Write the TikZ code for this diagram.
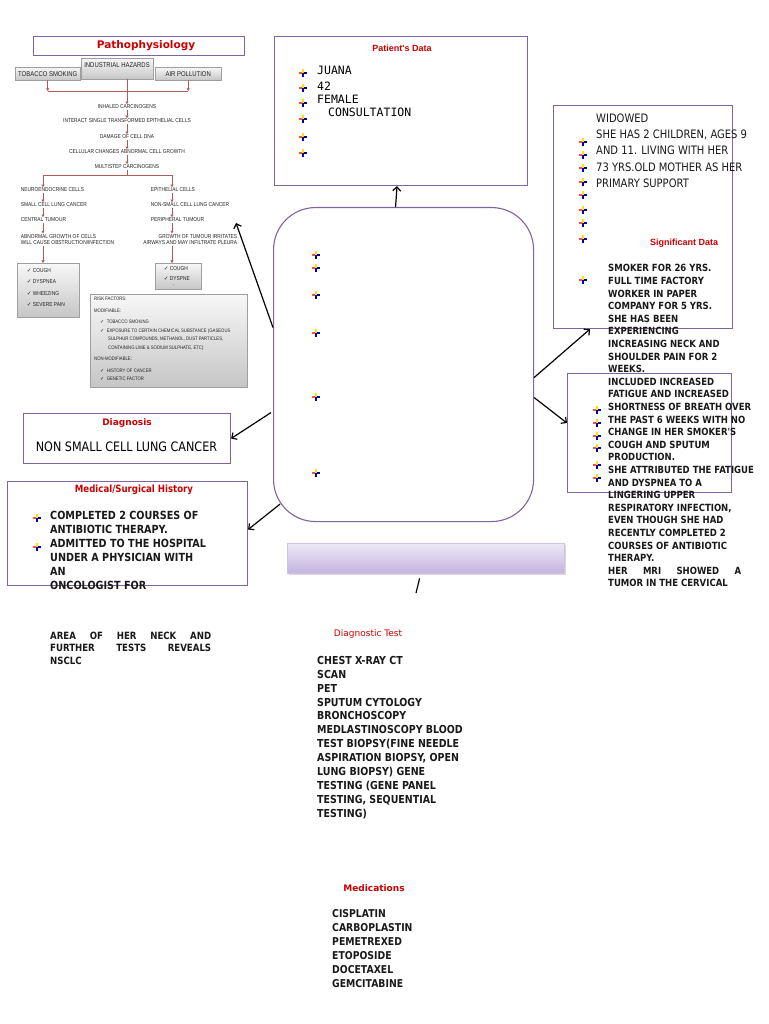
\documentclass[tikz,border=0pt]{standalone}
\usepackage{fontspec}
\setmainfont{DejaVu Sans}
\newfontfamily\tah[FakeStretch=0.86]{DejaVu Sans}
\newfontfamily\flw[FakeStretch=0.85]{Liberation Sans}
\newfontfamily\arl{Liberation Sans}
\newfontfamily\mon{DejaVu Sans Mono}
\newfontfamily\dv{DejaVu Sans}
\usetikzlibrary{arrows.meta,calc,shadows}
\newcommand{\chkm}{{\dv\char"2713}}
\definecolor{pur}{HTML}{8064A2}
\definecolor{tred}{HTML}{CC0000}
\definecolor{fred}{HTML}{B25A5A}
\definecolor{lavtop}{HTML}{EDE8F6}
\definecolor{lavbot}{HTML}{C4B3DF}
\definecolor{ftxc}{HTML}{222222}
\tikzset{
  pbox/.style={draw=pur, line width=1.1pt, inner sep=0pt, anchor=north west},
  gbox/.style={draw=gray!75, top color=gray!6, bottom color=gray!45, inner sep=0pt, anchor=north west,
     drop shadow={opacity=0.25, shadow xshift=1pt, shadow yshift=-1pt}},
  arr/.style={-{Straight Barb[length=4pt,width=8pt]}, line width=1.2pt, black},
  farr/.style={-{Triangle[length=2.6pt,width=3pt]}, fred, line width=0.9pt},
  fline/.style={fred, line width=0.9pt},
  ftxt/.style={font=\flw\fontsize{5.7}{6.6}\selectfont, inner sep=0.6pt, text=ftxc},
  gtxt/.style={font=\flw\fontsize{7}{8}\selectfont, inner sep=0pt, text=ftxc},
  rtxt/.style={font=\flw\fontsize{5}{6}\selectfont, inner sep=0pt, text=ftxc, anchor=west},
  ttl/.style={text=tred, inner sep=0pt},
  btx/.style={inner sep=0pt, align=left, anchor=north west, text=black!90},
  bul/.pic={
    \fill[red!70] (-4.2,-1.1) rectangle (0,1.1);
    \fill[blue!65!black] (0,-1.2) rectangle (4.2,1.2);
    \fill[yellow!85!orange] (-1.1,-4.4) rectangle (1.1,0);
    \fill[blue!65!black] (-1.2,0) rectangle (1.2,4.2);
  }
}
\begin{document}
\begin{tikzpicture}[x=1pt,y=-1pt]
\useasboundingbox[fill=white] (0,0) rectangle (768,1024);

% ---------------- Pathophysiology ----------------
\node[pbox, minimum width=211pt, minimum height=19pt] (pp) at (33,36) {};
\node[ttl, font=\dv\bfseries\fontsize{10.5}{12}\selectfont] (ppt) at (146,46) {Pathophysiology};

\node[gbox, minimum width=65pt, minimum height=13pt] (tob) at (15,67) {};
\node[gtxt] (tobt) at (tob.center) {TOBACCO SMOKING};
\node[gbox, minimum width=72pt, minimum height=21pt] (ind) at (81,58) {};
\node[gtxt] (indt) at (117,65) {INDUSTRIAL HAZARDS};
\node[gbox, minimum width=66pt, minimum height=13pt] (air) at (155,67) {};
\node[gtxt] (airt) at (air.center) {AIR POLLUTION};

\node[ftxt] (inh) at (127,107) {INHALED CARCINOGENS};
\node[ftxt] (intr) at (127,121) {INTERACT SINGLE TRANSFORMED EPITHELIAL CELLS};
\node[ftxt] (dmg) at (127,137) {DAMAGE OF CELL DNA};
\node[ftxt] (cel) at (127,152) {CELLULAR CHANGES ABNORMAL CELL GROWTH};
\node[ftxt] (mst) at (127,167) {MULTISTEP CARCINOGENS};

\coordinate (hl) at (0,91);
\draw[farr] (tob.south) -- (tob.south |- hl);
\draw[farr] (air.south) -- (air.south |- hl);
\draw[fline] (tob.south |- hl) -- (air.south |- hl);
\draw[farr] (ind.south -| inh.north) -- (inh.north);
\draw[farr] (inh.south) -- (intr.north);
\draw[farr] (intr.south) -- (dmg.north);
\draw[farr] (dmg.south) -- (cel.north);
\draw[farr] (cel.south) -- (mst.north);

\node[ftxt, anchor=west] (neu) at (20,190) {NEUROENDOCRINE CELLS};
\node[ftxt, anchor=west] (scl) at (20,205) {SMALL CELL LUNG CANCER};
\node[ftxt, anchor=west] (cen) at (20,220) {CENTRAL TUMOUR};
\node[ftxt, anchor=west, align=left] (abn) at (20,239.5) {ABNORMAL GROWTH OF CELLS\\WILL CAUSE OBSTRUCTION/INFECTION};
\node[ftxt, anchor=west] (epi) at (150,190) {EPITHELIAL CELLS};
\node[ftxt, anchor=west] (nsc) at (150,205) {NON-SMALL CELL LUNG CANCER};
\node[ftxt, anchor=west] (per) at (150,220) {PERIPHERAL TUMOUR};
\node[ftxt, anchor=east, align=right] (gro) at (238,239.5) {GROWTH OF TUMOUR IRRITATES\\AIRWAYS AND MAY INFILTRATE PLEURA};

\coordinate (lc) at (43,175);
\coordinate (rc) at (172,175);
\draw[fline] (mst.south) -- (mst.south |- lc);
\draw[fline] (lc) -- (rc);
\draw[farr] (lc) -- (lc |- neu.north);
\draw[farr] (rc) -- (rc |- epi.north);
\draw[farr] (lc |- neu.south) -- (lc |- scl.north);
\draw[farr] (lc |- scl.south) -- (lc |- cen.north);
\draw[farr] (lc |- cen.south) -- (lc |- abn.north);
\draw[farr] (rc |- epi.south) -- (rc |- nsc.north);
\draw[farr] (rc |- nsc.south) -- (rc |- per.north);
\draw[farr] (rc |- per.south) -- (rc |- gro.north);

\node[gbox, minimum width=62pt, minimum height=54pt] (ckl) at (17,263) {};
\node[gbox, minimum width=46pt, minimum height=26pt] (ckr) at (155,263) {};
\draw[farr] (lc |- abn.south) -- (lc |- ckl.north);
\draw[farr] (rc |- gro.south) -- (rc |- ckr.north);
\node[ftxt, anchor=west] (c1) at (26,271) {\chkm\ COUGH};
\node[ftxt, anchor=west] (c2) at (26,282) {\chkm\ DYSPNEA};
\node[ftxt, anchor=west] (c3) at (26,293.5) {\chkm\ WHEEZING};
\node[ftxt, anchor=west] (c4) at (26,305) {\chkm\ SEVERE PAIN};
\node[ftxt, anchor=west] (c5) at (163,269) {\chkm\ COUGH};
\node[ftxt, anchor=west] (c6) at (163,279) {\chkm\ DYSPNE};
\node[ftxt, anchor=west] (c7) at (172,285) {.};

\node[gbox, minimum width=157pt, minimum height=93pt] (risk) at (90,294) {};
\node[rtxt] (r1) at (94,299) {RISK FACTORS:};
\node[rtxt] (r2) at (94,311) {MODIFIABLE:};
\node[rtxt] (r3) at (100,322) {\chkm\ \ TOBACCO SMOKING};
\node[rtxt] (r4) at (100,331) {\chkm\ \ EXPOSURE TO CERTAIN CHEMICAL SUBSTANCE (GASEOUS};
\node[rtxt] (r5) at (108,339.5) {SULPHUR COMPOUNDS, METHANOL, DUST PARTICLES,};
\node[rtxt] (r6) at (108,348) {CONTAINING LIME \& SODIUM SULPHATE, ETC)};
\node[rtxt] (r7) at (94,359) {NON-MODIFIABLE:};
\node[rtxt] (r8) at (100,371) {\chkm\ \ HISTORY OF CANCER};
\node[rtxt] (r9) at (100,379) {\chkm\ \ GENETIC FACTOR};

% ---------------- Patient's data ----------------
\node[pbox, minimum width=253pt, minimum height=149pt] (pd) at (274,36) {};
\node[ttl, font=\arl\bfseries\fontsize{9}{11}\selectfont] (pdt) at (402,48) {Patient's Data};
\foreach \yy in {73,88,103,119,137,153} \pic at (303,\yy) {bul};
\node[inner sep=0pt, anchor=west, font=\mon\fontsize{11.5}{13}\selectfont] (p1) at (317,70) {JUANA};
\node[inner sep=0pt, anchor=west, font=\mon\fontsize{11.5}{13}\selectfont] (p2) at (317,86.5) {42};
\node[inner sep=0pt, anchor=west, font=\mon\fontsize{11.5}{13}\selectfont] (p3) at (317,99.5) {FEMALE};
\node[inner sep=0pt, anchor=west, font=\mon\fontsize{11.5}{13}\selectfont] (p4) at (328,112.5) {CONSULTATION};

% ---------------- central box ----------------
\node[draw=pur, line width=1.1pt, rounded corners=42pt, minimum width=260pt, minimum height=314pt, anchor=north west, inner sep=0pt] (core) at (273,207) {};
\foreach \yy in {255,268,295,333,397,473} \pic at (316,\yy) {bul};

% ---------------- right side ----------------
\node[pbox, minimum width=179pt, minimum height=223pt] (rtop) at (553,105) {};
\node[pbox, minimum width=164pt, minimum height=119pt] (rlow) at (567,373) {};
\foreach \yy in {142,155,168,182,195,210,223,239,280} \pic at (583,\yy) {bul};
\foreach \yy in {410,423,436,448,465,478} \pic at (597,\yy) {bul};
\node[btx, font=\tah\fontsize{11.6}{16.2}\selectfont] (wid) at (596,113.6)
 {WIDOWED\\SHE HAS 2 CHILDREN, AGES 9\\AND 11. LIVING WITH HER\\73 YRS.OLD MOTHER AS HER\\PRIMARY SUPPORT};
\node[ttl, font=\arl\bfseries\fontsize{9}{11}\selectfont] (sdt) at (684,243) {Significant Data};
\node[btx, font=\tah\bfseries\fontsize{9.9}{12.6}\selectfont] (sig) at (608,264.4)
 {SMOKER FOR 26 YRS.\\FULL TIME FACTORY\\WORKER IN PAPER\\COMPANY FOR 5 YRS.\\SHE HAS BEEN\\EXPERIENCING\\INCREASING NECK AND\\SHOULDER PAIN FOR 2\\WEEKS.\\INCLUDED INCREASED\\FATIGUE AND INCREASED\\SHORTNESS OF BREATH OVER\\THE PAST 6 WEEKS WITH NO\\CHANGE IN HER SMOKER'S\\COUGH AND SPUTUM\\PRODUCTION.\\SHE ATTRIBUTED THE FATIGUE\\AND DYSPNEA TO A\\LINGERING UPPER\\RESPIRATORY INFECTION,\\EVEN THOUGH SHE HAD\\RECENTLY COMPLETED 2\\COURSES OF ANTIBIOTIC\\THERAPY.\\\makebox[133pt][s]{HER\hfill MRI\hfill SHOWED\hfill A}\\TUMOR IN THE CERVICAL};

% ---------------- diagnosis & history ----------------
\node[pbox, minimum width=207pt, minimum height=50pt] (diag) at (23,413) {};
\node[ttl, font=\dv\bfseries\fontsize{9}{11}\selectfont] (dgt) at (127,423) {Diagnosis};
\node[inner sep=0pt, font=\tah\fontsize{13}{15}\selectfont] (dgx) at (126.5,447) {NON SMALL CELL LUNG CANCER};

\node[pbox, minimum width=240pt, minimum height=104pt] (hist) at (7,481) {};
\node[ttl, font=\tah\bfseries\fontsize{10}{12}\selectfont] (hst) at (134,490) {Medical/Surgical History};
\foreach \yy in {518,547} \pic at (37,\yy) {bul};
\node[btx, font=\tah\bfseries\fontsize{11.2}{14}\selectfont] (hix) at (50,511)
 {COMPLETED 2 COURSES OF\\ANTIBIOTIC THERAPY.\\ADMITTED TO THE HOSPITAL\\UNDER A PHYSICIAN WITH\\AN\\ONCOLOGIST FOR};
\node[btx, font=\tah\bfseries\fontsize{10}{12.8}\selectfont] (area) at (50,631.4)
 {\makebox[161pt][s]{AREA\hfill OF\hfill HER\hfill NECK\hfill AND}\\\makebox[161pt][s]{FURTHER\hfill TESTS\hfill REVEALS}\\NSCLC};

% ---------------- bottom ----------------
\node[inner sep=0pt, anchor=north west, minimum width=277pt, minimum height=30pt,
  top color=lavtop, bottom color=lavbot, draw=lavbot!80!white, line width=0.3pt,
  drop shadow={opacity=0.3, shadow xshift=1.5pt, shadow yshift=-1.5pt}] (bar) at (287,543) {};
\coordinate (barend) at (416,593);
\draw[line width=1.2pt] ($(bar.south)+(-6,5)$) -- (barend);

\node[ttl, font=\dv\fontsize{9}{11}\selectfont] (dtt) at (368,634) {Diagnostic Test};
\node[btx, font=\tah\bfseries\fontsize{11}{13.9}\selectfont] (dtx) at (317,656)
 {CHEST X-RAY CT\\SCAN\\PET\\SPUTUM CYTOLOGY\\BRONCHOSCOPY\\MEDLASTINOSCOPY BLOOD\\TEST BIOPSY(FINE NEEDLE\\ASPIRATION BIOPSY, OPEN\\LUNG BIOPSY) GENE\\TESTING (GENE PANEL\\TESTING, SEQUENTIAL\\TESTING)};

\node[ttl, font=\dv\bfseries\fontsize{9}{11}\selectfont] (mdt) at (374,888) {Medications};
\node[btx, font=\tah\bfseries\fontsize{10.8}{14}\selectfont] (mdx) at (332,909)
 {CISPLATIN\\CARBOPLASTIN\\PEMETREXED\\ETOPOSIDE\\DOCETAXEL\\GEMCITABINE};

% ---------------- connectors ----------------
\coordinate (pfend) at (236,223);
\draw[arr] ($(core.north)+(-8,0)$) -- ($(pd.south)+(-4,0)$);
\draw[arr] ($(core.west)+(0,-37)$) -- (pfend);
\draw[arr] ($(core.west)+(-2,48)$) -- (diag.east);
\draw[arr] ($(core.south west)+(7,-18)$) -- ($(hist.east)+(0,-4)$);
\draw[arr] ($(core.east)+(0,13)$) -- ($(rtop.south west)+(37,0)$);
\draw[arr] ($(core.east)+(0,33)$) -- ($(rlow.west)+(0,-10)$);
\end{tikzpicture}
\end{document}
